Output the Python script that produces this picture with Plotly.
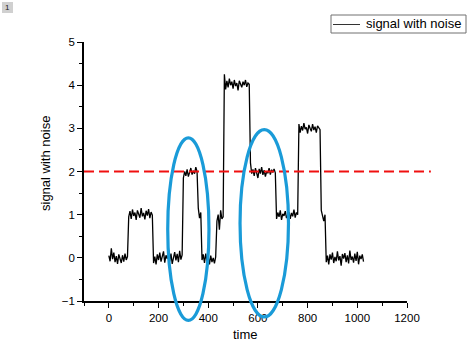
import plotly.graph_objects as go

# ---- data ----
seg_a = [0.05, -0.08, 0.22, -0.03, 0.12, -0.1, 0.04, -0.14, 0.08, -0.02, -0.12, 0.06, -0.09, 0.1, -0.05, 0.03]
seg_b = [0.95, 1.08, 0.9, 1.12, 0.97, 1.05, 0.88, 1.1, 1.02, 0.93, 1.15, 0.96, 1.04, 0.89, 1.09, 0.98, 1.13, 0.92, 1.06, 0.99]
seg_c = [-0.12, 0.03, -0.15, 0.08, -0.05, 0.12, -0.09, 0.02, 0.15, -0.11, 0.06, -0.02, 0.18, -0.08, 0.1, -0.14, 0.05, 0.13, -0.06, 0.09, -0.1, 0.16, -0.04, 0.07]
seg_d = [1.85, 2.0, 1.9, 2.05, 1.88, 1.98, 2.08, 1.93, 2.02, 1.95, 2.1, 2.0]
seg_e = [1.15, 0.92, 1.05]
seg_f = [-0.05, 0.08, -0.12, 0.1, -0.08, 0.03, -0.15, 0.05, -0.1, 0.0, -0.13, 0.02]
seg_g = [0.85, 1.0, 0.65, 1.1, 0.9, 0.95]
seg_h = [4.25, 3.9, 4.1, 3.95, 4.15, 4.0, 4.08, 3.92, 4.12, 3.98, 4.05, 3.88, 4.1, 4.02, 3.95, 4.08, 4.0, 4.12, 3.96, 4.05, 4.02]
seg_i = [2.2, 1.95, 2.05, 1.9, 2.08, 1.98, 1.85, 2.06, 1.95, 2.1, 1.92, 2.03, 1.88, 2.0, 1.96, 2.08, 1.93, 2.04, 1.98, 2.06, 1.97]
seg_j = [0.9, 1.05, 0.95, 1.1, 0.88, 1.02, 0.97, 1.08, 0.92, 1.0, 1.06, 0.9, 1.04, 0.96, 1.12, 0.93, 1.05, 1.0]
seg_k = [3.1, 2.9, 3.05, 2.95, 3.12, 2.98, 3.02, 2.88, 3.08, 3.0, 2.93, 3.1, 2.96, 3.04, 2.9, 3.06, 3.0, 2.97]
seg_l = [1.1, 0.95, 0.85, 1.0]
seg_m = [-0.1, 0.05, -0.15, 0.08, -0.04, 0.12, -0.12, 0.02, -0.08, 0.15, -0.06, 0.04, -0.18, 0.09, -0.02, 0.11,
         -0.1, 0.06, -0.13, 0.17, -0.05, 0.03, -0.11, 0.1, -0.07, 0.14, -0.15, 0.05, -0.03, 0.08, -0.09]

signal = seg_a + seg_b + seg_c + seg_d + seg_e + seg_f + seg_g + seg_h + seg_i + seg_j + seg_k + seg_l + seg_m
time_step = 5
time = [time_step * i for i in range(len(signal))]
series_name = "signal with noise"

threshold = 2
threshold_x_end = 1296

# ellipses (data coordinates: x0, x1, y0, y1)
ellipses = [(237, 403, -1.45, 2.78), (528, 723, -1.37, 2.97)]

x_range = [-100, 1200]
y_range = [-1, 5]

# ---- layout geometry ----
W, H = 474, 361
ML, MR, MT, MB = 84, 67, 42, 60
PW, PH = W - ML - MR, H - MT - MB


def px_x(x):
    return (x - x_range[0]) / (x_range[1] - x_range[0])


def px_y(y):
    return (y - y_range[0]) / (y_range[1] - y_range[0])


def pix_x(p):
    return (p - ML) / PW


def pix_y(p):
    return (H - MB - p) / PH


font = "Arial, Liberation Sans, sans-serif"

fig = go.Figure()
fig.add_trace(go.Scatter(x=time, y=signal, mode="lines", name=series_name,
                         line=dict(color="black", width=1.3), showlegend=False))

shapes = []
shapes.append(dict(type="line", xref="paper", yref="paper",
                   x0=0, x1=px_x(threshold_x_end), y0=px_y(threshold), y1=px_y(threshold),
                   line=dict(color="#f01010", width=2, dash="10px,5px")))
for (x0, x1, y0, y1) in ellipses:
    shapes.append(dict(type="circle", xref="paper", yref="paper",
                       x0=px_x(x0), x1=px_x(x1), y0=px_y(y0), y1=px_y(y1),
                       line=dict(color="#1a9bd8", width=3.2)))
# small page-number box at top-left
shapes.append(dict(type="rect", xref="paper", yref="paper",
                   x0=pix_x(2), x1=pix_x(13), y0=pix_y(2), y1=pix_y(13),
                   fillcolor="#d0d0d0", line=dict(width=0)))
# legend box and sample line
shapes.append(dict(type="rect", xref="paper", yref="paper",
                   x0=pix_x(331), x1=pix_x(466), y0=pix_y(15), y1=pix_y(33),
                   fillcolor="white", line=dict(color="#707070", width=1)))
shapes.append(dict(type="line", xref="paper", yref="paper",
                   x0=pix_x(333), x1=pix_x(360), y0=pix_y(24.5), y1=pix_y(24.5),
                   line=dict(color="#333333", width=1)))

annotations = [
    dict(text="1", xref="paper", yref="paper", x=pix_x(7.5), y=pix_y(7.5),
         showarrow=False, font=dict(family=font, size=8, color="#222"), xanchor="center", yanchor="middle"),
    dict(text="signal with noise", xref="paper", yref="paper", x=pix_x(45), y=pix_y(164),
         textangle=-90, showarrow=False, font=dict(family=font, size=13, color="black"),
         xanchor="center", yanchor="middle"),
    dict(text="time", xref="paper", yref="paper", x=pix_x(245), y=pix_y(334),
         showarrow=False, font=dict(family=font, size=13, color="black"),
         xanchor="center", yanchor="middle"),
    dict(text=series_name, xref="paper", yref="paper", x=pix_x(364), y=pix_y(24),
         showarrow=False, font=dict(family=font, size=13, color="black"),
         xanchor="left", yanchor="middle"),
]

fig.update_layout(
    width=W, height=H,
    margin=dict(l=ML, r=MR, t=MT, b=MB),
    paper_bgcolor="white", plot_bgcolor="white",
    font=dict(family=font, size=11.5, color="black"),
    showlegend=False,
    shapes=shapes,
    annotations=annotations,
)
fig.update_xaxes(range=x_range, dtick=200, tick0=0, showgrid=False, zeroline=False,
                 showline=True, linecolor="black", linewidth=1.5,
                 ticks="outside", ticklen=5, tickwidth=1.3, tickcolor="black",
                 minor=dict(dtick=100, tick0=0, ticks="outside", ticklen=3, tickwidth=1.3, tickcolor="black"))
fig.update_yaxes(range=y_range, dtick=1, tick0=0, showgrid=False, zeroline=False,
                 showline=True, linecolor="black", linewidth=1.5,
                 ticks="outside", ticklen=5, tickwidth=1.3, tickcolor="black",
                 minor=dict(dtick=0.5, tick0=0, ticks="outside", ticklen=3, tickwidth=1.3, tickcolor="black"))

fig.write_html("out.html", config={"displayModeBar": False},
               post_script="document.body.style.margin='0';")
